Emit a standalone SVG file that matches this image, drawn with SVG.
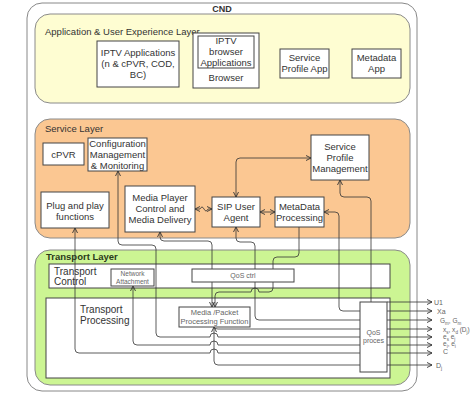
<svg xmlns="http://www.w3.org/2000/svg" width="474" height="404" viewBox="0 0 474 404">
<defs>
<style>
.t{font-family:"Liberation Sans",Arial,sans-serif;fill:#333;text-anchor:middle;font-size:9.5px}
.tl{font-family:"Liberation Sans",Arial,sans-serif;fill:#333;font-size:9.5px}
.s{font-family:"Liberation Sans",Arial,sans-serif;fill:#666;text-anchor:middle;font-size:6.5px}
.r{font-family:"Liberation Sans",Arial,sans-serif;fill:#666;font-size:7px}
.box{fill:#fff;stroke:#444;stroke-width:1}
.lay{stroke:#8a8a8a;stroke-width:1}
.c{fill:none;stroke:#333;stroke-width:0.8}
</style>
<marker id="a" viewBox="0 0 6 6" refX="5.5" refY="3" markerWidth="6" markerHeight="6" markerUnits="userSpaceOnUse" orient="auto-start-reverse">
<path d="M0.5,0.5 L5.5,3 L0.5,5.5" fill="none" stroke="#333" stroke-width="0.9"/>
</marker>
</defs>

<g id="cnd">
<rect x="27" y="3" width="390" height="388" rx="15" fill="#fff" stroke="#888" stroke-width="1"/>
<text x="222" y="12" class="t" style="font-weight:bold;font-size:9px">CND</text>
</g>

<g id="app-layer">
<rect x="35" y="14" width="375" height="89" rx="15" fill="#FEFDD2" class="lay"/>
<text x="45" y="35" class="tl">Application &amp; User Experience Layer</text>
</g>
<g id="iptv-apps">
<rect x="97" y="41" width="82" height="46" class="box"/>
<text x="138" y="56" class="t">IPTV Applications</text>
<text x="138" y="67" class="t">(n &amp; cPVR, COD,</text>
<text x="138" y="78" class="t">BC)</text>
</g>
<g id="browser">
<rect x="193" y="33" width="66" height="55" class="box"/>
<rect x="198" y="36" width="56" height="32" class="box"/>
<text x="226" y="44" class="t">IPTV</text>
<text x="226" y="55" class="t">browser</text>
<text x="226" y="66" class="t">Applications</text>
<text x="226" y="81" class="t">Browser</text>
</g>
<g id="spa">
<rect x="280" y="49" width="49" height="29" class="box"/>
<text x="304.5" y="61" class="t">Service</text>
<text x="304.5" y="72" class="t">Profile App</text>
</g>
<g id="mda">
<rect x="352" y="49" width="49" height="29" class="box"/>
<text x="376.5" y="61" class="t">Metadata</text>
<text x="376.5" y="72" class="t">App</text>
</g>

<g id="service-layer">
<rect x="35" y="119" width="375" height="119" rx="15" fill="#FBC792" class="lay"/>
<text x="45" y="132" class="tl">Service Layer</text>
</g>
<g id="cpvr">
<rect x="43" y="143" width="41" height="22" class="box"/>
<text x="63.5" y="157.5" class="t">cPVR</text>
</g>
<g id="config">
<rect x="88" y="138" width="59" height="33" class="box"/>
<text x="117.5" y="146.5" class="t">Configuration</text>
<text x="117.5" y="157.5" class="t">Management</text>
<text x="117.5" y="168.5" class="t">&amp; Monitoring</text>
</g>
<g id="pnp">
<rect x="41" y="192" width="68" height="36" class="box"/>
<text x="75" y="209" class="t">Plug and play</text>
<text x="75" y="220" class="t">functions</text>
</g>
<g id="mpc">
<rect x="125" y="186" width="70" height="46" class="box"/>
<text x="160" y="200.5" class="t">Media Player</text>
<text x="160" y="211.5" class="t">Control and</text>
<text x="160" y="222.5" class="t">Media Delivery</text>
</g>
<g id="sip">
<rect x="212" y="197" width="48" height="30" class="box"/>
<text x="236" y="209.5" class="t">SIP User</text>
<text x="236" y="220.5" class="t">Agent</text>
</g>
<g id="mdp">
<rect x="275" y="197" width="49" height="30" class="box"/>
<text x="299.5" y="209.5" class="t">MetaData</text>
<text x="299.5" y="220.5" class="t">Processing</text>
</g>
<g id="spm">
<rect x="311" y="135" width="58" height="45" class="box"/>
<text x="340" y="149.5" class="t">Service</text>
<text x="340" y="160.5" class="t">Profile</text>
<text x="340" y="171.5" class="t">Management</text>
</g>

<g id="transport-layer">
<rect x="35" y="250" width="375" height="135" rx="15" fill="#CCF593" class="lay"/>
<text x="46" y="260" class="tl" style="font-weight:bold;fill:#2a3a1a">Transport Layer</text>
</g>
<g id="transport-control">
<rect x="49" y="264" width="341" height="24" fill="#fff" stroke="#444" stroke-width="1"/>
<text x="54" y="274.5" class="tl" style="font-size:10px">Transport</text>
<text x="54" y="285" class="tl" style="font-size:10px">Control</text>
</g>
<g id="transport-processing">
<rect x="46" y="298" width="344" height="80" fill="#fff" stroke="#444" stroke-width="1"/>
<text x="80" y="312.5" class="tl" style="font-size:10px">Transport</text>
<text x="80" y="323.5" class="tl" style="font-size:10px">Processing</text>
</g>

<g id="connectors">
<path class="c" d="M236,197 V162 Q236,158 240,158 H311" marker-start="url(#a)" marker-end="url(#a)"/>
<path class="c" d="M195,209 H200 Q202,205 204,209 Q206,213 208,209 H212" marker-start="url(#a)" marker-end="url(#a)"/>
<path class="c" d="M260,212 H275" marker-start="url(#a)" marker-end="url(#a)"/>
<path class="c" d="M340,180 V193 Q340,197 344,197 H367 Q371,197 371,201 V302" marker-start="url(#a)"/>
<path class="c" d="M324,212 H335 Q339,212 339,216 V307 Q339,311 343,311 H360" marker-start="url(#a)"/>
<path class="c" d="M299,227 V253 Q299,257 295,257 H277 Q273,257 273,261 V288 Q273,292 269,292 H259 A4,4 0 0 0 251,292 H219 Q215,292 215,296 V307" marker-end="url(#a)"/>
<path class="c" d="M236,227 V238 Q236,242 240,242 H251 Q255,242 255,246 V316 Q255,320 259,320 H360" marker-start="url(#a)"/>
<path class="c" d="M160,232 V237 Q160,241 164,241 H208 Q212,241 212,245 V307" marker-start="url(#a)" marker-end="url(#a)"/>
<path class="c" d="M118,171 V241 Q118,245 122,245 H152 Q156,245 156,249 V333 Q156,337 160,337 H210 A4,4 0 0 1 218,337 H360" marker-start="url(#a)"/>
<path class="c" d="M133,286 V341 Q133,345 137,345 H210 A4,4 0 0 1 218,345 H360" marker-start="url(#a)"/>
<path class="c" d="M75,228 V349 Q75,353 79,353 H210 A4,4 0 0 1 218,353 H360" marker-start="url(#a)"/>
<path class="c" d="M214,327 Q214,329 218,329 H360" marker-start="url(#a)"/>
<path class="c" d="M214,327 V361 Q214,365 218,365 H432" marker-end="url(#a)"/>
<path class="c" d="M387,302 H432" marker-end="url(#a)"/>
<path class="c" d="M387,311 H432" marker-end="url(#a)"/>
<path class="c" d="M387,320 H432" marker-end="url(#a)"/>
<path class="c" d="M387,329 H432" marker-end="url(#a)"/>
<path class="c" d="M387,337 H432" marker-end="url(#a)"/>
<path class="c" d="M387,345 H432" marker-end="url(#a)"/>
<path class="c" d="M387,353 H432" marker-end="url(#a)"/>
</g>

<g id="network-attachment">
<rect x="111" y="269" width="43" height="17" class="box"/>
<text x="132.5" y="276" class="s">Network</text>
<text x="132.5" y="284" class="s">Attachment</text>
</g>
<g id="qos-ctrl">
<rect x="192" y="269" width="102" height="13" class="box"/>
<text x="243" y="278" class="s" style="font-size:7px">QoS ctrl</text>
</g>
<g id="media-packet">
<rect x="179" y="307" width="71" height="20" class="box"/>
<text x="214.5" y="315" class="s" style="font-size:7.5px">Media /Packet</text>
<text x="214.5" y="324" class="s" style="font-size:7.5px">Processing Function</text>
</g>
<g id="qos-process">
<rect x="360" y="302" width="27" height="70" class="box"/>
<text x="373.5" y="335" class="s" style="font-size:7px">QoS</text>
<text x="373.5" y="343" class="s" style="font-size:7px">proces</text>
</g>

<g id="labels">
<text x="434" y="305" class="r">U1</text>
<text x="437" y="314" class="r">Xa</text>
<text x="440" y="323" class="r" style="font-size:6.5px">G<tspan font-size="4.5" dy="1.5">m</tspan><tspan dy="-1.5">, G</tspan><tspan font-size="4.5" dy="1.5">m</tspan></text>
<text x="443" y="332" class="r" style="font-size:6.5px">x<tspan font-size="4.5" dy="1.5">s</tspan><tspan dy="-1.5">, x</tspan><tspan font-size="4.5" dy="1.5">d</tspan><tspan dy="-1.5"> (D</tspan><tspan font-size="4.5" dy="1.5">j</tspan><tspan dy="-1.5">)</tspan></text>
<text x="443" y="339" class="r" style="font-size:6.5px">e<tspan font-size="4.5" dy="1.5">s</tspan><tspan dy="-1.5"> e</tspan><tspan font-size="4.5" dy="1.5">j</tspan></text>
<text x="443" y="346" class="r" style="font-size:6.5px">e<tspan font-size="4.5" dy="1.5">i</tspan><tspan dy="-1.5">, e</tspan><tspan font-size="4.5" dy="1.5">i</tspan></text>
<text x="443" y="354" class="r">C</text>
<text x="436" y="368" class="r">D<tspan font-size="5" dy="1.5">j</tspan></text>
</g>
</svg>
